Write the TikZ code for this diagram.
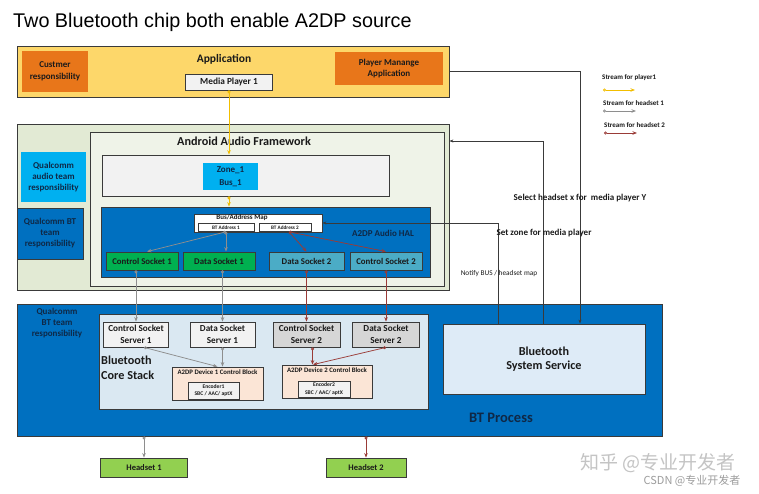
\documentclass[tikz,border=0pt]{standalone}
\usepackage{fontspec}
\setmainfont{Carlito}
\newfontfamily\titlefont{Liberation Sans}
\newfontfamily\cjk{Noto Sans CJK SC}
\usetikzlibrary{arrows.meta}
\definecolor{bd}{HTML}{3A3A3A}
\definecolor{appY}{HTML}{FDD76A}
\definecolor{orng}{HTML}{E8761A}
\definecolor{fwG}{HTML}{E2EAD4}
\definecolor{aafG}{HTML}{EFF3E8}
\definecolor{cyan1}{HTML}{00B0F0}
\definecolor{blue1}{HTML}{0070C0}
\definecolor{grn1}{HTML}{00B050}
\definecolor{teal1}{HTML}{4BACC6}
\definecolor{lg}{HTML}{F2F2F2}
\definecolor{mg}{HTML}{D6D6D6}
\definecolor{coreB}{HTML}{DAE8F2}
\definecolor{peach}{HTML}{FBE5D6}
\definecolor{bssB}{HTML}{DEEBF7}
\definecolor{hsG}{HTML}{92D050}
\definecolor{txt}{HTML}{1A1A1A}
\definecolor{navy}{HTML}{0F2846}
\definecolor{ycol}{HTML}{F2BE00}
\definecolor{gcol}{HTML}{8E8E8E}
\definecolor{rcol}{HTML}{9A3B37}
\definecolor{wm}{HTML}{C4C4C4}
\newcommand\fsz[2]{\fontsize{#1}{#2}\selectfont}
\begin{document}
\begin{tikzpicture}[x=1pt,y=-1pt,
  box/.style={draw=bd,line width=0.8pt,inner sep=0pt,align=center,text=txt},
  bx/.style 2 args={minimum width=#1,minimum height=#2},
  lbl/.style={inner sep=0pt,align=center,text=txt},
  stream/.style={line width=0.75pt,{Circle[open,length=3pt,width=3pt]}-{Stealth[length=4.5pt,width=3.5pt]}},
  ystream/.style={stream,draw=ycol},
  gstream/.style={stream,draw=gcol},
  rstream/.style={stream,draw=rcol},
  ctl/.style={draw=bd,line width=0.8pt}
]
\fill[white] (0,0) rectangle (759,494);
\useasboundingbox (0,0) rectangle (759,494);

% title
\node[anchor=west,inner sep=0pt,font=\titlefont\fsz{19.8}{22}] (title) at (13,22) {Two Bluetooth chip both enable A2DP source};

% application layer
\node[box,fill=appY,bx={432}{51}] (app) at (233,71.5) {};
\node[box,draw=none,fill=orng,bx={66}{41},font=\bfseries\fsz{9}{12}] (cust) at (55,71.5) {Custmer\\responsibility};
\node[lbl,font=\bfseries\fsz{11.5}{13}] (apptitle) at (224,59) {Application};
\node[box,fill=lg,bx={87}{16},font=\bfseries\fsz{9.3}{10}] (mp1) at (229,82) {Media Player 1};
\node[box,draw=none,fill=orng,bx={108}{33},font=\bfseries\fsz{9}{11}] (pma) at (389,68.5) {Player Manange\\Application};

% framework
\node[box,fill=fwG,bx={432}{166}] (fw) at (233,207) {};
\node[box,draw=none,fill=cyan1,bx={65}{50},text=navy,font=\bfseries\fsz{9}{11}] (qaudio) at (53.5,177) {Qualcomm\\audio team\\responsibility};
\node[box,fill=blue1,bx={66}{51},text=navy,font=\bfseries\fsz{9}{11}] (qbt) at (50,233.5) {Qualcomm BT\\team\\responsibility};
\node[box,fill=aafG,bx={354}{154}] (aaf) at (267,209) {};
\node[lbl,font=\bfseries\fsz{12.2}{14}] (aaftitle) at (244,141) {Android Audio Framework};
\node[box,fill=lg,bx={287}{41}] (zonebox) at (245.5,175.5) {};
\node[box,draw=none,fill=cyan1,bx={55}{27},text=navy,font=\bfseries\fsz{9}{13}] (zone1) at (230.5,177) {Zone\_1\\Bus\_1};
\node[box,fill=blue1,bx={329}{70}] (hal) at (265.5,242) {};
\node[lbl,text=navy,font=\bfseries\fsz{9}{10}] (hallbl) at (383,233) {A2DP Audio HAL};
\node[box,fill=white,bx={128}{18}] (busmap) at (258,223) {};
\node[lbl,font=\bfseries\fsz{7}{8}] (busmaplbl) at (242,218) {Bus/Address Map};
\node[box,fill=white,line width=0.6pt,bx={56}{8},font=\bfseries\fsz{5.2}{6}] (bta1) at (226,227.5) {BT Address 1};
\node[box,fill=white,line width=0.6pt,bx={52}{8},font=\bfseries\fsz{5.2}{6}] (bta2) at (285,227.5) {BT Address 2};
\node[box,fill=grn1,bx={72}{18},font=\bfseries\fsz{8.8}{10}] (cs1) at (142,261) {Control Socket 1};
\node[box,fill=grn1,bx={72}{18},font=\bfseries\fsz{8.8}{10}] (ds1) at (219,261) {Data Socket 1};
\node[box,fill=teal1,bx={75}{18},font=\bfseries\fsz{8.8}{10}] (ds2) at (306.5,261) {Data Socket 2};
\node[box,fill=teal1,bx={72}{18},font=\bfseries\fsz{8.8}{10}] (cs2) at (386,261) {Control Socket 2};

% BT process
\node[box,fill=blue1,bx={645}{132}] (bt) at (339.5,370) {};
\node[lbl,text=navy,font=\bfseries\fsz{9}{11}] (qbt2) at (57,323) {Qualcomm\\BT team\\responsibility};
\node[box,fill=coreB,bx={329}{95}] (core) at (263.5,361.5) {};
\node[box,fill=lg,bx={65}{25},font=\bfseries\fsz{9.2}{11.5}] (css1) at (136,334.5) {Control Socket\\Server 1};
\node[box,fill=lg,bx={65}{25},font=\bfseries\fsz{9.2}{11.5}] (dss1) at (222.5,334.5) {Data Socket\\Server 1};
\node[box,fill=mg,bx={67}{25},font=\bfseries\fsz{9.2}{11.5}] (css2) at (306.5,334.5) {Control Socket\\Server 2};
\node[box,fill=mg,bx={67}{25},font=\bfseries\fsz{9.2}{11.5}] (dss2) at (386,334.5) {Data Socket\\Server 2};
\node[lbl,align=left,anchor=west,font=\bfseries\fsz{12.2}{15}] (bcs) at (101,368) {Bluetooth\\Core Stack};
\node[box,fill=peach,bx={91}{33}] (a2dp1) at (217.5,383.5) {};
\node[lbl,font=\bfseries\fsz{6.8}{7}] (a2dp1lbl) at (217.5,372) {A2DP Device 1 Control Block};
\node[box,fill=lg,line width=0.6pt,bx={51}{17},font=\bfseries\fsz{5.6}{7.5}] (enc1) at (213.5,390.5) {Encoder1\\SBC / AAC/ aptX};
\node[box,fill=peach,bx={90}{33}] (a2dp2) at (327,381.5) {};
\node[lbl,font=\bfseries\fsz{6.8}{7}] (a2dp2lbl) at (327,370.5) {A2DP Device 2 Control Block};
\node[box,fill=lg,line width=0.6pt,bx={52}{16},font=\bfseries\fsz{5.6}{7.5}] (enc2) at (324,389) {Encoder2\\SBC / AAC/ aptX};
\node[box,fill=bssB,bx={202}{70},font=\bfseries\fsz{12.2}{14}] (bss) at (544,359) {Bluetooth\\System Service};
\node[lbl,text=navy,font=\bfseries\fsz{14.5}{16}] (btp) at (501,418) {BT Process};

% headsets
\node[box,fill=hsG,bx={87}{19},font=\bfseries\fsz{8.5}{9}] (hs1) at (144,467.5) {Headset 1};
\node[box,fill=hsG,bx={80}{19},font=\bfseries\fsz{8.5}{9}] (hs2) at (366,467.5) {Headset 2};

% stream arrows
\draw[ystream] (mp1.south) -- (mp1.south |- zonebox.north);
\draw[ystream] (zonebox.south -| mp1.south) -- (mp1.south |- hal.north);
\draw[gstream] (bta1.south) -- ([xshift=5pt]cs1.north);
\draw[gstream] (bta1.south) -- ([xshift=7pt]ds1.north);
\draw[rstream] ([xshift=4pt]bta2.south) -- (ds2.north);
\draw[rstream] ([xshift=4pt]bta2.south) -- (cs2.north);
\draw[gstream] (cs1.south -| css1.north) -- (css1.north);
\draw[gstream] (ds1.south -| dss1.north) -- (dss1.north);
\draw[rstream] (ds2.south -| css2.north) -- (css2.north);
\draw[rstream] (cs2.south -| dss2.north) -- (dss2.north);
\draw[gstream] ([xshift=8pt]css1.south) -- (a2dp1.north);
\draw[gstream] (dss1.south) -- (dss1.south |- a2dp1.north);
\draw[rstream] ([xshift=6pt]css2.south) -- ([xshift=6pt]css2.south |- a2dp2.north);
\draw[rstream] (dss2.south) -- ([xshift=-14pt]a2dp2.north);
\draw[gstream] (bt.south -| hs1.north) -- (hs1.north);
\draw[rstream] (bt.south -| hs2.north) -- (hs2.north);

% control lines
\coordinate (k1) at (580,0);
\coordinate (k2) at (543.5,0);
\coordinate (k3) at (0,141);
\coordinate (k4) at (498,0);
\draw[ctl,-{Stealth[length=4pt,width=3pt]}] (app.east) -| (k1 |- bss.north);
\draw[ctl,{Stealth[length=4pt,width=3pt]}-] (fw.east |- k3) -| (k2 |- bss.north);
\draw[ctl,{Stealth[length=4pt,width=3pt]}-] (busmap.east) -| (k4 |- bss.north);
\node[lbl,font=\bfseries\fsz{9}{10}] (sel) at (580,198) {Select headset x for\ \ media player Y};
\node[lbl,font=\bfseries\fsz{9}{10}] (setz) at (544,233) {Set zone for media player};
\node[lbl,font=\fsz{7.3}{8}] (notify) at (499,274) {Notify BUS / headset map};

% legend
\node[lbl,anchor=west,font=\bfseries\fsz{7}{8}] (lg1) at (602,77.5) {Stream for player1};
\node[lbl,anchor=west,font=\bfseries\fsz{7}{8}] (lg2) at (603,103) {Stream for headset 1};
\node[lbl,anchor=west,font=\bfseries\fsz{7}{8}] (lg3) at (604,125) {Stream for headset 2};
\coordinate (la1) at (603,90); \coordinate (lb1) at (635,90);
\coordinate (la2) at (603,111); \coordinate (lb2) at (636,111);
\coordinate (la3) at (604,133); \coordinate (lb3) at (637,133);
\draw[ystream] (la1) -- (lb1);
\draw[gstream] (la2) -- (lb2);
\draw[rstream] (la3) -- (lb3);

% watermark
\node[lbl,text=wm,font=\cjk\fsz{19}{21}] (wm1) at (658,463) {知乎 @专业开发者};
\node[lbl,text=wm!80!black,font=\cjk\fsz{11}{12}] (wm2) at (692,481) {CSDN @专业开发者};
\end{tikzpicture}
\end{document}
